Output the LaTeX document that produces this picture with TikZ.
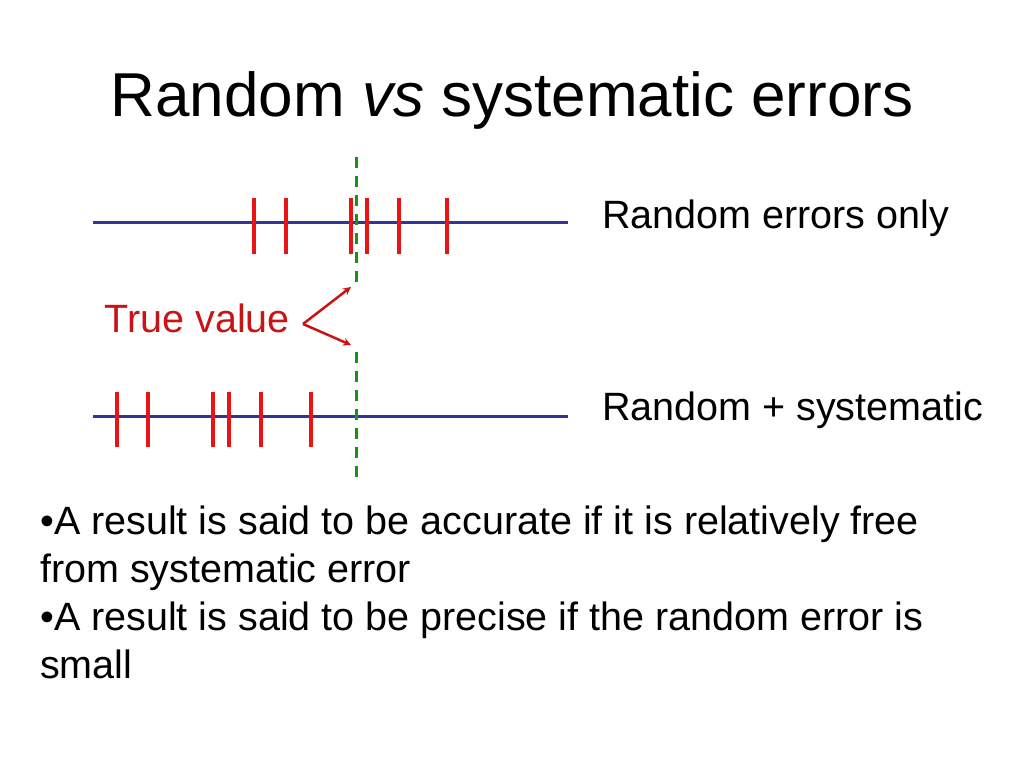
\documentclass[tikz,border=0pt]{standalone}
\usepackage{fontspec}
\setmainfont{Liberation Sans}
\usetikzlibrary{positioning}
\definecolor{axisblue}{RGB}{51,51,153}
\definecolor{tickred}{RGB}{235,20,20}
\definecolor{truegreen}{RGB}{20,150,20}
\definecolor{labelred}{RGB}{200,20,20}
\tikzset{axis/.style={line width=3pt,draw=axisblue}}
\tikzset{tick/.style={line width=4pt,draw=tickred}}
\tikzset{truth/.style={line width=3pt,draw=truegreen,dash pattern=on 11pt off 8pt}}
\tikzset{caption/.style={anchor=west,inner sep=0pt,font=\fontsize{39.5}{44}\selectfont}}
\tikzset{bullet/.style={anchor=north west,inner sep=0pt,align=left,font=\fontsize{39.5}{48}\selectfont}}
\begin{document}
\begin{tikzpicture}[x=1pt,y=-1pt]
\useasboundingbox (0,0) rectangle (1024,768);
\node[font=\fontsize{62}{66}\selectfont] (title) at (512,100) {Random \textit{vs} systematic errors};
% upper row: random errors only
\draw[axis] (93,222) -- (568,222);
\foreach \x in {254,286,351,367,399,447} {
	\draw[tick] (\x,198) -- (\x,254);
}
% lower row: random + systematic
\draw[axis] (93,416) -- (568,416);
\foreach \x in {117,148,213,229,261,311} {
	\draw[tick] (\x,392) -- (\x,447);
}
\draw[truth] (356,157) -- (356,285);
\draw[truth] (356,352) -- (356,478);
\node[caption] (only) at (602,218) {Random errors only};
\node[caption] (both) at (602,410) {Random + systematic};
\node[caption,text=labelred,anchor=east] (tv) at (290,318) {True value};
\coordinate (up) at (351,287);
\coordinate (down) at (351,345);
\draw[labelred,line width=2.5pt,-stealth] (tv.east) ++(13,6) -- (up);
\draw[labelred,line width=2.5pt,-stealth] (tv.east) ++(13,6) -- (down);
\node[bullet] (notes) at (40,506) {\textbullet A result is said to be accurate if it is relatively free\\
from systematic error\\
\textbullet A result is said to be precise if the random error is\\
small};
\end{tikzpicture}
\end{document}
